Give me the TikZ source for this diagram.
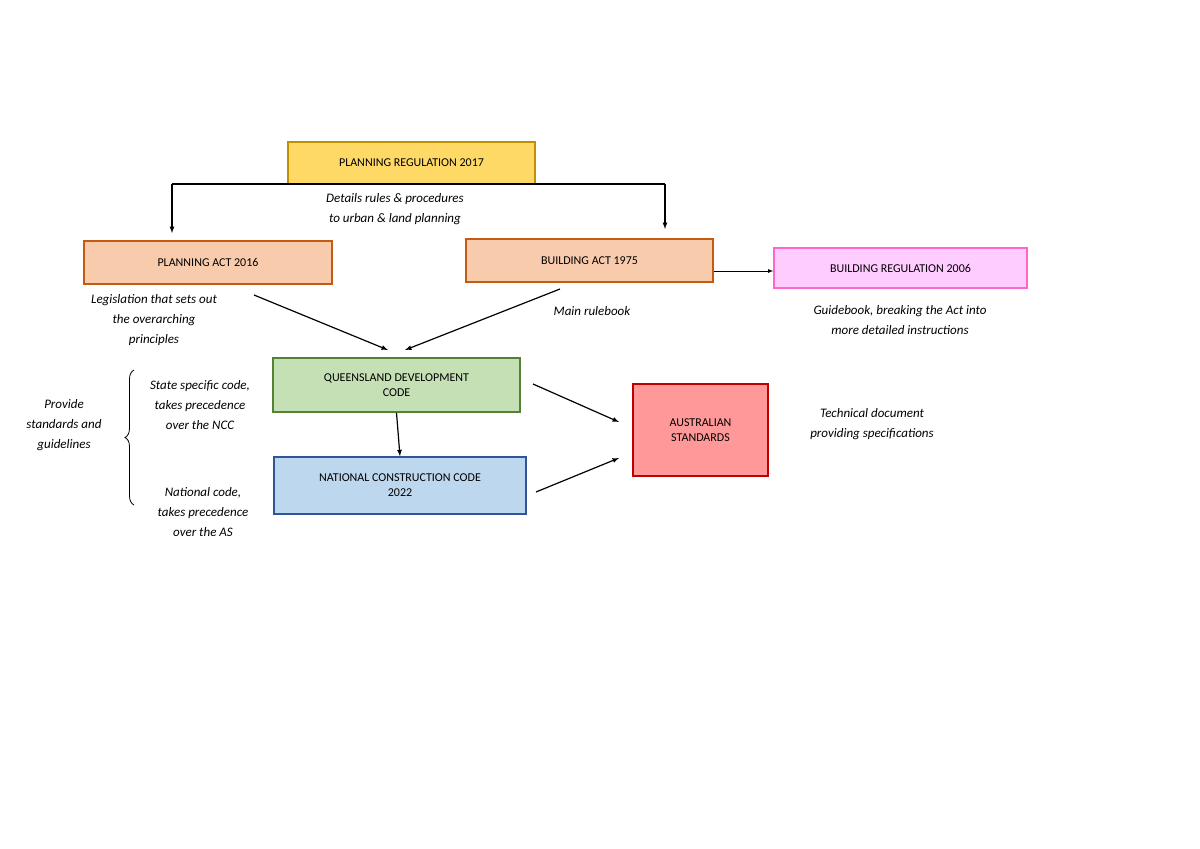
\documentclass[tikz,border=0pt]{standalone}
\usepackage{fontspec}
\setmainfont{Carlito}
\usetikzlibrary{decorations.pathreplacing}
\definecolor{prfill}{HTML}{FFD966}\definecolor{prline}{HTML}{BF9000}
\definecolor{actfill}{HTML}{F8CBAD}\definecolor{actline}{HTML}{C55A11}
\definecolor{regfill}{HTML}{FFCCFF}\definecolor{regline}{HTML}{FF66CC}
\definecolor{qdcfill}{HTML}{C5E0B4}\definecolor{qdcline}{HTML}{548235}
\definecolor{nccfill}{HTML}{BDD7EE}\definecolor{nccline}{HTML}{2F5597}
\definecolor{asfill}{HTML}{FF9999}\definecolor{asline}{HTML}{C00000}
\begin{document}
\begin{tikzpicture}[x=1pt, y=-1pt]
    \tikzset{
    law box/.style={draw,line width=1.5pt,align=center,font=\fontsize{12}{15}\selectfont},
    note/.style={align=center,font=\fontsize{13}{20}\selectfont\itshape},
    link/.style={-latex,line width=1.2pt}
    }
    \useasboundingbox (0,0) rectangle (1200,849);
    \node[law box,fill=prfill,draw=prline,minimum width=247pt,minimum height=42pt] (pr) at (411.5,163) {PLANNING REGULATION 2017};
    \node[law box,fill=actfill,draw=actline,minimum width=248pt,minimum height=43pt] (pa) at (208,262.5) {PLANNING ACT 2016};
    \node[law box,fill=actfill,draw=actline,minimum width=247pt,minimum height=43pt] (ba) at (589.5,260.5) {BUILDING ACT 1975};
    \node[law box,fill=regfill,draw=regline,minimum width=253pt,minimum height=40pt] (br) at (900.5,268) {BUILDING REGULATION 2006};
    \node[law box,fill=qdcfill,draw=qdcline,minimum width=247pt,minimum height=54pt] (qdc) at (396.5,385) {QUEENSLAND DEVELOPMENT\\CODE};
    \node[law box,fill=nccfill,draw=nccline,minimum width=252pt,minimum height=57pt] (ncc) at (400,485.5) {NATIONAL CONSTRUCTION CODE\\2022};
    \node[law box,fill=asfill,draw=asline,minimum width=135pt,minimum height=92pt] (as) at (700.5,430) {AUSTRALIAN\\STANDARDS};

    % connectors
    \coordinate (prl) at (172,184);
    \coordinate (prr) at (665,184);
    \draw[line width=1.2pt] (prl) -- (prr);
    \draw[link] (prl) -- (172,233);
    \draw[link] (prr) -- (665,229);
    \coordinate (paout) at (254,295);
    \coordinate (baout) at (560,289);
    \coordinate (qdcinl) at (388,350);
    \coordinate (qdcinr) at (405,350);
    \draw[link] (paout) -- (qdcinl);
    \draw[link] (baout) -- (qdcinr);
    \draw[-latex,line width=0.8pt] (ba.east |- 0,271) -- (br.west |- 0,271);
    \draw[link] (qdc.south) -- (ncc.north);
    \coordinate (qdcout) at (533,384);
    \coordinate (nccout) at (536,492);
    \draw[link] (qdcout) -- (619,422);
    \draw[link] (nccout) -- (619,458);

    % notes
    \node[note] (prnote) at (395,209) {Details rules \& procedures\\to urban \& land planning};
    \node[note] (panote) at (154,320) {Legislation that sets out\\the overarching\\principles};
    \node[note] (banote) at (592,311) {Main rulebook};
    \node[note] (brnote) at (900,320) {Guidebook, breaking the Act into\\more detailed instructions};
    \node[note] (qdcnote) at (200,405) {State specific code,\\takes precedence\\over the NCC};
    \node[note] (nccnote) at (203,512) {National code,\\takes precedence\\over the AS};
    \node[note] (asnote) at (872,424) {Technical document\\providing specifications};
    \node[note] (provide) at (64,425) {Provide\\standards and\\guidelines};
    \draw[decorate,decoration={brace,amplitude=9pt},line width=0.8pt] (134,505) -- (134,370);
\end{tikzpicture}
\end{document}
